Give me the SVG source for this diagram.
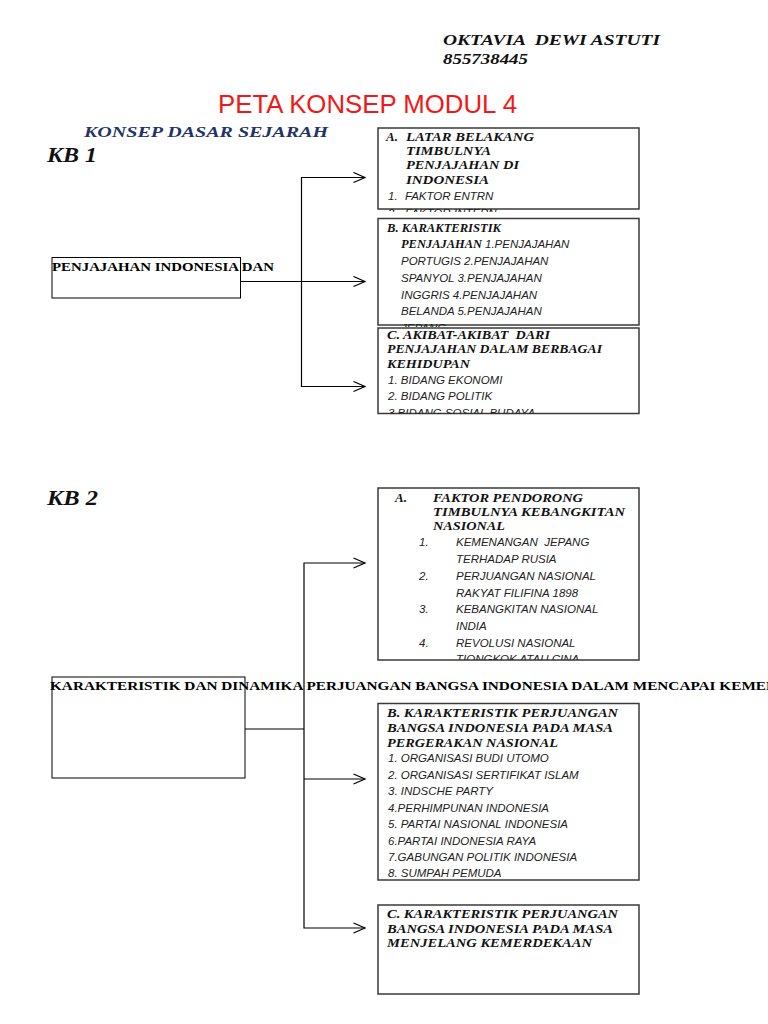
<svg xmlns="http://www.w3.org/2000/svg" width="768" height="1024" viewBox="0 0 768 1024">
<style>
.bi{font-family:"Liberation Serif",serif;font-weight:bold;font-style:italic;font-size:13px;fill:#111}
.si{font-family:"Liberation Sans",sans-serif;font-style:italic;font-size:11.5px;fill:#222}
.bs{font-family:"Liberation Serif",serif;font-weight:bold;font-size:13.5px;fill:#000}
.box{fill:none;stroke:#3a3a3a;stroke-width:1.5}
.lbox{fill:none;stroke:#000;stroke-width:1}
.conn{fill:none;stroke:#000;stroke-width:1.2}
</style>
<defs>
<marker id="arr" markerUnits="userSpaceOnUse" markerWidth="14" markerHeight="12" viewBox="0 0 14 12" refX="12.5" refY="6" orient="auto">
<path d="M1,1 L12.5,6 L1,11" fill="none" stroke="#000" stroke-width="1.2"/>
</marker>
<clipPath id="cA1"><rect x="378" y="127" width="262" height="85"/></clipPath>
<clipPath id="cB1"><rect x="378" y="218" width="262" height="109"/></clipPath>
<clipPath id="cC1"><rect x="378" y="328" width="262" height="86"/></clipPath>
<clipPath id="cA2"><rect x="378" y="488" width="262" height="172"/></clipPath>
</defs>
<rect width="768" height="1024" fill="#fff"/>

<g id="header">
<text class="bi" x="443" y="45" style="font-size:15.5px" textLength="217" lengthAdjust="spacingAndGlyphs" xml:space="preserve">OKTAVIA  DEWI ASTUTI</text>
<text class="bi" x="443" y="64" style="font-size:15.5px" textLength="85" lengthAdjust="spacingAndGlyphs">855738445</text>
<text x="218" y="113" font-family="Liberation Sans, sans-serif" font-size="25.5" fill="#f01818" textLength="299" lengthAdjust="spacingAndGlyphs">PETA KONSEP MODUL 4</text>
<text class="bi" x="84" y="137" style="font-size:15.5px;fill:#1f3468" textLength="244" lengthAdjust="spacingAndGlyphs">KONSEP DASAR SEJARAH</text>
<text class="bi" x="47" y="162" style="font-size:20px" textLength="50" lengthAdjust="spacingAndGlyphs">KB 1</text>
<text class="bi" x="47" y="505" style="font-size:20px" textLength="51" lengthAdjust="spacingAndGlyphs">KB 2</text>
</g>

<g id="connectors">
<path class="conn" d="M240.5,281.5 H365" marker-end="url(#arr)"/>
<path class="conn" d="M301.5,281.5 V177.5 H365" marker-end="url(#arr)"/>
<path class="conn" d="M301.5,281.5 V386.5 H365" marker-end="url(#arr)"/>
<path class="conn" d="M245,729 H304"/>
<path class="conn" d="M304,729 V563 H365" marker-end="url(#arr)"/>
<path class="conn" d="M304,729 V928 H365" marker-end="url(#arr)"/>
<path class="conn" d="M304,779 H365" marker-end="url(#arr)"/>
</g>

<g id="kb1-main">
<rect class="lbox" x="52" y="257.5" width="188.5" height="40.5"/>
<text class="bs" x="52" y="271" textLength="222" lengthAdjust="spacingAndGlyphs">PENJAJAHAN INDONESIA DAN</text>
</g>

<g id="kb1-a">
<rect class="box" x="378" y="128" width="261" height="81"/>
<g clip-path="url(#cA1)">
<text class="bi" x="386" y="141">A.</text>
<text class="bi" x="406" y="141" textLength="128" lengthAdjust="spacingAndGlyphs">LATAR BELAKANG</text>
<text class="bi" x="406" y="155" textLength="85" lengthAdjust="spacingAndGlyphs">TIMBULNYA</text>
<text class="bi" x="406" y="169" textLength="113" lengthAdjust="spacingAndGlyphs">PENJAJAHAN DI</text>
<text class="bi" x="406" y="184" textLength="83" lengthAdjust="spacingAndGlyphs">INDONESIA</text>
<text class="si" x="388" y="200">1.</text>
<text class="si" x="405" y="200">FAKTOR ENTRN</text>
<text class="si" x="388" y="217">2.</text>
<text class="si" x="405" y="217">FAKTOR INTERN</text>
</g>
</g>

<g id="kb1-b">
<rect class="box" x="378" y="218.5" width="261" height="106.5"/>
<g clip-path="url(#cB1)">
<text class="bi" x="387" y="232" textLength="114" lengthAdjust="spacingAndGlyphs">B. KARAKTERISTIK</text>
<text class="bi" x="401" y="248" textLength="81" lengthAdjust="spacingAndGlyphs">PENJAJAHAN</text>
<text class="si" x="485" y="248">1.PENJAJAHAN</text>
<text class="si" x="401" y="265">PORTUGIS 2.PENJAJAHAN</text>
<text class="si" x="401" y="281.5">SPANYOL 3.PENJAJAHAN</text>
<text class="si" x="401" y="298.5">INGGRIS 4.PENJAJAHAN</text>
<text class="si" x="401" y="315">BELANDA 5.PENJAJAHAN</text>
<text class="si" x="401" y="332">JEPANG</text>
</g>
</g>

<g id="kb1-c">
<rect class="box" x="378" y="328" width="261" height="85.5"/>
<g clip-path="url(#cC1)">
<text class="bi" x="387" y="338.5" textLength="163" lengthAdjust="spacingAndGlyphs" xml:space="preserve">C. AKIBAT-AKIBAT  DARI</text>
<text class="bi" x="387" y="353" textLength="215" lengthAdjust="spacingAndGlyphs">PENJAJAHAN DALAM BERBAGAI</text>
<text class="bi" x="387" y="367.5" textLength="83" lengthAdjust="spacingAndGlyphs">KEHIDUPAN</text>
<text class="si" x="388" y="384">1. BIDANG EKONOMI</text>
<text class="si" x="388" y="400">2. BIDANG POLITIK</text>
<text class="si" x="388" y="417">3.BIDANG SOSIAL BUDAYA</text>
</g>
</g>

<g id="kb2-main">
<rect class="lbox" x="52" y="677" width="193" height="101"/>
<text class="bs" x="50" y="690" textLength="727" lengthAdjust="spacingAndGlyphs">KARAKTERISTIK DAN DINAMIKA PERJUANGAN BANGSA INDONESIA DALAM MENCAPAI KEMER</text>
</g>

<g id="kb2-a">
<rect class="box" x="378" y="488" width="261" height="172"/>
<g clip-path="url(#cA2)">
<text class="bi" x="395" y="502">A.</text>
<text class="bi" x="433" y="502" textLength="150" lengthAdjust="spacingAndGlyphs">FAKTOR PENDORONG</text>
<text class="bi" x="433" y="516" textLength="192" lengthAdjust="spacingAndGlyphs">TIMBULNYA KEBANGKITAN</text>
<text class="bi" x="433" y="530" textLength="72" lengthAdjust="spacingAndGlyphs">NASIONAL</text>
<text class="si" x="419" y="546">1.</text>
<text class="si" x="456" y="546" xml:space="preserve">KEMENANGAN  JEPANG</text>
<text class="si" x="456" y="563">TERHADAP RUSIA</text>
<text class="si" x="419" y="580">2.</text>
<text class="si" x="456" y="580">PERJUANGAN NASIONAL</text>
<text class="si" x="456" y="596.5">RAKYAT FILIFINA 1898</text>
<text class="si" x="419" y="613">3.</text>
<text class="si" x="456" y="613">KEBANGKITAN NASIONAL</text>
<text class="si" x="456" y="630">INDIA</text>
<text class="si" x="419" y="646.5">4.</text>
<text class="si" x="456" y="646.5">REVOLUSI NASIONAL</text>
<text class="si" x="456" y="663">TIONGKOK ATAU CINA</text>
</g>
</g>

<g id="kb2-b">
<rect class="box" x="378" y="703.5" width="261" height="176.5"/>
<text class="bi" x="387" y="717" textLength="231" lengthAdjust="spacingAndGlyphs">B. KARAKTERISTIK PERJUANGAN</text>
<text class="bi" x="387" y="732" textLength="226" lengthAdjust="spacingAndGlyphs">BANGSA INDONESIA PADA MASA</text>
<text class="bi" x="387" y="747" textLength="171" lengthAdjust="spacingAndGlyphs">PERGERAKAN NASIONAL</text>
<text class="si" x="388" y="762">1. ORGANISASI BUDI UTOMO</text>
<text class="si" x="388" y="778.5">2. ORGANISASI SERTIFIKAT ISLAM</text>
<text class="si" x="388" y="795">3. INDSCHE PARTY</text>
<text class="si" x="388" y="811.5">4.PERHIMPUNAN INDONESIA</text>
<text class="si" x="388" y="828">5. PARTAI NASIONAL INDONESIA</text>
<text class="si" x="388" y="844.5">6.PARTAI INDONESIA RAYA</text>
<text class="si" x="388" y="861">7.GABUNGAN POLITIK INDONESIA</text>
<text class="si" x="388" y="877">8. SUMPAH PEMUDA</text>
</g>

<g id="kb2-c">
<rect class="box" x="378" y="905" width="261" height="89"/>
<text class="bi" x="387" y="918" textLength="231" lengthAdjust="spacingAndGlyphs">C. KARAKTERISTIK PERJUANGAN</text>
<text class="bi" x="387" y="933" textLength="226" lengthAdjust="spacingAndGlyphs">BANGSA INDONESIA PADA MASA</text>
<text class="bi" x="387" y="947" textLength="205" lengthAdjust="spacingAndGlyphs">MENJELANG KEMERDEKAAN</text>
</g>
</svg>
